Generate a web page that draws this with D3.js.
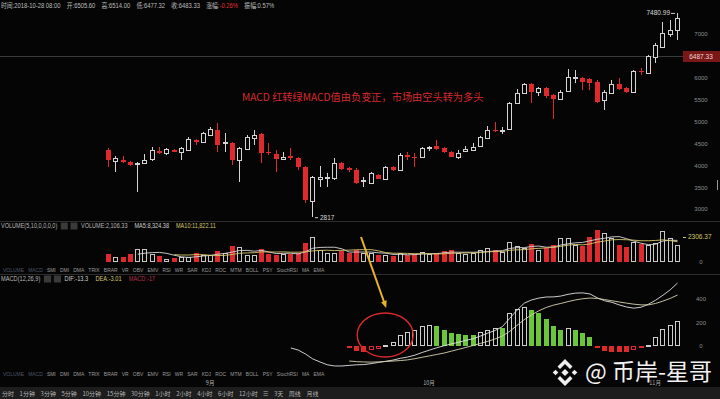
<!DOCTYPE html>
<html>
<head>
<meta charset="utf-8">
<script src="https://cdn.jsdelivr.net/npm/d3@7"></script>
<style>
  html, body { margin: 0; padding: 0; background: #050505; }
  svg { display: block; }
</style>
</head>
<body>
<svg id="chart" width="720" height="399"></svg>
<script>
// daily candles, 2017-08-18 .. 2017-11-05
const startDay = new Date(2017, 7, 18);
const open  = [4352,4100,4123,4078,4030,4055,4146,4330,4285,4352,4310,4352,4580,4535,4694,4808,4530,4511,4123,4375,
               4626,4717,4306,4260,4146,4215,4169,3964,3187,3690,3710,3712,4055,3941,3895,3644,3598,3780,3690,3964,
               3895,4237,4200,4190,4390,4445,4397,4306,4190,4330,4352,4440,4626,4808,4790,4831,5425,5653,5858,5676,
               5767,5607,5516,5700,6000,5995,5970,5904,5493,5653,5858,5767,5676,6150,6110,6475,6710,7000,7090];
const high  = [4397,4215,4215,4100,4080,4260,4420,4420,4400,4370,4420,4650,4603,4763,4877,4968,4740,4535,4420,4694,
               4808,4740,4511,4352,4306,4397,4190,3987,3760,3987,3826,4169,4078,3964,3941,3735,3850,3800,3987,3987,
               4285,4306,4285,4420,4440,4580,4420,4330,4352,4440,4511,4672,4900,4990,4877,5447,5744,5881,5881,5790,
               5790,5630,5721,6202,6180,6018,5995,5950,5721,5950,6000,5790,6180,6225,6520,6795,7270,7320,7480.99];
const low   = [3964,3850,4055,3990,3393,4030,4100,4260,4240,4300,4123,4330,4465,4530,4672,4306,4306,4010,3621,4352,
               4466,4055,4240,3850,4123,4123,3895,3142,2817,3507,3507,3667,3895,3850,3575,3507,3598,3680,3667,3870,
               3870,4123,3964,4169,4330,4352,4285,4190,4146,4306,4330,4420,4603,4763,4717,4808,5425,5630,5425,5584,
               5539,5060,5493,5676,5880,5720,5720,5425,5265,5653,5720,5653,5653,6065,6087,6340,6680,6930,6865];
const close = [4123,4169,4078,4010,4060,4123,4352,4285,4375,4310,4397,4603,4535,4740,4831,4466,4545,4123,4397,4650,
               4694,4285,4285,4146,4190,4169,3964,3210,3735,3735,3735,4055,3918,3895,3598,3667,3827,3690,3964,3895,
               4237,4190,4180,4397,4410,4375,4306,4190,4285,4375,4420,4650,4808,4787,4810,5425,5653,5858,5676,5767,
               5584,5516,5676,6018,6020,5904,5880,5447,5676,5858,5744,5676,6155,6135,6500,6740,7020,7090,7360];
const volume = [740,460,460,740,1200,1200,740,550,280,370,460,460,830,650,650,1010,830,1475,1380,650,
                650,1200,740,650,740,740,830,1750,2300,1100,830,830,1010,830,1100,830,830,650,650,550,
                830,650,740,920,740,830,1010,1100,830,740,830,1100,1290,1100,920,1840,1475,1290,1660,1100,
                1290,1570,2210,2210,1570,1475,2300,2950,2670,2210,1570,1380,1840,1660,1570,1750,2860,2210,1570];
// MACD(12,26,9)
const difStart = 25;
const dif = [-17,-34,-68,-110,-136,-160,-170,-170,-165,-160,
             -158,-150,-140,-130,-120,-105,-94,-78,-55,-35,
             -15,2,18,32,48,62,85,110,132,165,
             235,305,365,392,408,417,418,425,440,450,
             452,443,410,385,372,350,332,322,330,355,
             390,432,478,536];
const deaStart = 33;
const dea = [-128,-133,-136,-137,-135,-132,-128,-124,-118,-108,
             -96,-84,-72,-60,-44,-28,-12,5,22,40,
             60,85,125,175,225,265,300,328,348,362,
             378,392,402,408,405,395,385,375,365,356,
             350,350,362,382,405,434];
const hist = [-15,-42,-50,-34,-25,5,35,94,119,136,
              170,179,170,136,113,102,94,90,119,136,
              153,150,280,315,330,306,283,228,170,136,
              153,136,113,74,-8,-42,-50,-53,-55,-32,
              -14,6,77,145,179,213];

const priceTicks = [3000, 3500, 4000, 4500, 5000, 5500, 6000, 6500, 7000];
const macdTicks = [0, 200, 400];
const lastPrice = 6487.33;
const volMark = 2306.37;

const headerItems = [
  ["时间:", "2018-10-28 08:00"], ["开:", "6505.60"], ["高:", "6514.00"], ["低:", "6477.32"],
  ["收:", "6483.33"], ["涨幅:", "-0.26%"], ["振幅:", "0.57%"]
];
const volLegend = [["VOLUME(5,10,0,0,0,0)", "#b8b8b8"], ["VOLUME:2,106.33", "#b8b8b8"], ["MA5:8,324.38", "#d0d0d0"], ["MA10:11,822.11", "#d6c66a"]];
const macdLegend = [["MACD(12,26,9)", "#b8b8b8"], ["DIF:-13.3", "#d0d0d0"], ["DEA:-3.01", "#d6c66a"], ["MACD:-17", "#b03048"]];
const indicatorTabs = ["VOLUME","MACD","SMI","DMI","DMA","TRIX","BRAR","VR","OBV","EMV","RSI","WR","SAR","KDJ","ROC","MTM","BOLL","PSY","StochRSI","MA","EMA"];
const periodTabs = ["分时","1分钟","3分钟","5分钟","10分钟","15分钟","30分钟","1小时","2小时","4小时","6小时","12小时","☰","3天","周线","月线"];
const note = "MACD 红转绿MACD值由负变正，市场由空头转为多头";

const UI = '"Liberation Sans","Noto Sans CJK SC",sans-serif';
const CJK = '"Noto Sans CJK SC",sans-serif';
const RED = "#de2a2c", WHITE = "#d4d4d4", GREEN = "#6cc63c", GREY = "#8e8e8e";

const days = d3.timeDay.range(startDay, d3.timeDay.offset(startDay, close.length));
const bars = days.map((d, i) => ({date: d, i, o: open[i], h: high[i], l: low[i], c: close[i], v: volume[i]}));

const svg = d3.select("#chart");
svg.append("rect").attr("width", 720).attr("height", 399).attr("fill", "#050505");

const x = d3.scalePoint().domain(days).range([108, 677]);
const cx = d => Math.round(x(d));
const y = d3.scaleLinear().domain([3000, 7000]).range([209.2, 34]);
const yv = d3.scaleLinear().domain([0, 3000]).range([262, 229.5]);
const ym = d3.scaleLinear().domain([0, 400]).range([346, 299]);

// separators
[221.5, 274.5].forEach(yy => svg.append("line").attr("x1", 0).attr("x2", 720)
  .attr("y1", yy).attr("y2", yy).attr("stroke", "#2c2c2c"));

// squeezed text row (the app uses a narrow UI font)
function row(x0, sx) {
  return svg.append("g").attr("transform", `translate(${x0},0) scale(${sx},1)`);
}

// header
const hg = row(1, 0.9);
let hx = 0;
headerItems.forEach(([k, v]) => {
  const t = hg.append("text").attr("x", hx).attr("y", 8).attr("font-family", UI).attr("font-size", 6.5);
  t.append("tspan").attr("fill", "#bdbdbd").text(k);
  t.append("tspan").attr("fill", v.startsWith("-") ? "#e03030" : "#bdbdbd").text(v);
  hx += t.node().getComputedTextLength() + 7;
});

// last price line
const yLast = Math.round(y(lastPrice)) + 0.5;
svg.append("line").attr("x1", 0).attr("x2", 683).attr("y1", yLast).attr("y2", yLast).attr("stroke", "#3a3a3a");

// price axis
svg.append("g").selectAll("text").data(priceTicks.filter(t => Math.abs(y(t) - y(lastPrice)) > 8)).join("text")
  .attr("x", 701).attr("y", t => y(t) + 2.2).attr("text-anchor", "middle")
  .attr("font-family", UI).attr("font-size", 6).attr("fill", GREY).text(t => t);
svg.append("rect").attr("x", 683).attr("y", yLast - 5.5).attr("width", 37).attr("height", 11).attr("fill", "#7a1818");
svg.append("text").attr("x", 701).attr("y", yLast + 2.3).attr("text-anchor", "middle")
  .attr("font-family", UI).attr("font-size", 6.5).attr("fill", "#f0d6d6").text(lastPrice.toFixed(2));

// candles
const cg = svg.append("g").attr("shape-rendering", "crispEdges");
const bw = 5;
const up = d => d.c >= d.o;
cg.selectAll("line").data(bars).join("line")
  .attr("x1", d => cx(d.date) + 0.5).attr("x2", d => cx(d.date) + 0.5)
  .attr("y1", d => y(d.h)).attr("y2", d => y(d.l))
  .attr("stroke", d => up(d) ? WHITE : RED);
cg.selectAll("rect").data(bars).join("rect")
  .attr("x", d => cx(d.date) - 2 + (up(d) ? 0 : -0.5))
  .attr("y", d => Math.round(y(Math.max(d.o, d.c))) + (up(d) ? 0.5 : 0))
  .attr("width", d => up(d) ? bw - 1 : bw)
  .attr("height", d => Math.max(1, Math.round(Math.abs(y(d.o) - y(d.c)))))
  .attr("fill", d => up(d) ? "#050505" : RED)
  .attr("stroke", d => up(d) ? WHITE : "none");

// high / low markers
const hi = d3.maxIndex(bars, d => d.h), lo = d3.minIndex(bars, d => d.l);
const hb = bars[hi], lb = bars[lo];
svg.append("line").attr("x1", cx(hb.date) - 6).attr("x2", cx(hb.date) - 2)
  .attr("y1", y(hb.h) + 0.5).attr("y2", y(hb.h) + 0.5).attr("stroke", "#cfcfcf");
svg.append("text").attr("x", cx(hb.date) - 7).attr("y", y(hb.h) + 2.5).attr("text-anchor", "end")
  .attr("font-family", UI).attr("font-size", 6.5).attr("fill", "#d8d8d8").text(hb.h.toFixed(2));
svg.append("line").attr("x1", cx(lb.date) + 3).attr("x2", cx(lb.date) + 6)
  .attr("y1", y(lb.l) + 0.5).attr("y2", y(lb.l) + 0.5).attr("stroke", "#cfcfcf");
svg.append("text").attr("x", cx(lb.date) + 8).attr("y", y(lb.l) + 2.5)
  .attr("font-family", UI).attr("font-size", 6.5).attr("fill", "#d8d8d8").text(lb.l);

// note
svg.append("text").attr("x", 242).attr("y", 100.5).attr("font-family", CJK).attr("font-size", 10.2)
  .attr("fill", "#d42a2c").text(note);

// legends
function legend(items, yy, x0, sx) {
  const g = row(x0, sx);
  let lx = 0;
  items.forEach(([t, col], k) => {
    const el = g.append("text").attr("x", lx).attr("y", yy).attr("font-family", UI)
      .attr("font-size", 6.3).attr("fill", col).text(t);
    lx += el.node().getComputedTextLength() + 8;
    if (k === 0) {
      [0, 1].forEach(j => g.append("rect").attr("x", lx - 4 + j * 11).attr("y", yy - 6)
        .attr("width", 8).attr("height", 7).attr("fill", "#3a3a3a"));
      lx += 19;
    }
  });
}
legend(volLegend, 228.5, 1, 0.88);
legend(macdLegend, 281.5, 1, 0.9);

// volume
const vg = svg.append("g").attr("shape-rendering", "crispEdges");
vg.selectAll("rect").data(bars).join("rect")
  .attr("x", d => cx(d.date) - 2 + (up(d) ? 0 : -0.5))
  .attr("y", d => Math.round(yv(d.v)) + (up(d) ? 0.5 : 0))
  .attr("width", d => up(d) ? bw - 1 : bw)
  .attr("height", d => Math.round(yv(0) - yv(d.v)) - (up(d) ? 1 : 0))
  .attr("fill", d => up(d) ? "#050505" : RED)
  .attr("stroke", d => up(d) ? "#c8c8c8" : "none");
const ma = n => bars.map((d, i) => i < n - 1 ? null : {date: d.date, v: d3.mean(volume.slice(i - n + 1, i + 1))}).filter(Boolean);
const vline = d3.line().x(d => x(d.date) + 0.5).y(d => yv(d.v));
svg.append("path").attr("d", vline(ma(5))).attr("fill", "none").attr("stroke", "#d8d8d8").attr("stroke-width", 0.9);
svg.append("path").attr("d", vline(ma(10))).attr("fill", "none").attr("stroke", "#d6c66a").attr("stroke-width", 0.9);
svg.append("text").attr("x", 701).attr("y", yv(0) + 2.2).attr("text-anchor", "middle")
  .attr("font-family", UI).attr("font-size", 6).attr("fill", GREY).text("0");
svg.append("line").attr("x1", 683).attr("x2", 686).attr("y1", yv(volMark) + 0.5).attr("y2", yv(volMark) + 0.5).attr("stroke", "#d6c66a");
svg.append("text").attr("x", 688).attr("y", yv(volMark) + 2.3)
  .attr("font-family", UI).attr("font-size", 6.5).attr("fill", "#d6c66a").text(volMark.toFixed(2));

// tab rows
function tabs(list, yy, x0, sx, gap, size, colorFn, font) {
  const g = row(x0, sx);
  let tx = 0;
  list.forEach((t, k) => {
    const el = g.append("text").attr("x", tx).attr("y", yy).attr("font-family", font)
      .attr("font-size", size).attr("fill", colorFn(t, k)).text(t);
    tx += el.node().getComputedTextLength() + gap;
  });
}
const tabColor = t => (t === "VOLUME" || t === "MACD") ? "#4c5566" : "#9c9c9c";
tabs(indicatorTabs, 272, 3, 0.83, 5, 6, tabColor, UI);
tabs(indicatorTabs, 376.5, 3, 0.83, 5, 6, tabColor, UI);

// MACD pane
const mg = svg.append("g").attr("shape-rendering", "crispEdges");
const hdata = hist.map((v, k) => ({date: days[deaStart + k], v, prev: k ? hist[k - 1] : 0}));
mg.selectAll("rect").data(hdata).join("rect")
  .attr("x", d => cx(d.date) - 1.5)
  .attr("y", d => Math.round(ym(Math.max(0, d.v))) + 0.5)
  .attr("width", 3.5)
  .attr("height", d => Math.max(0.5, Math.round(Math.abs(ym(d.v) - ym(0))) - 1))
  .attr("fill", d => d.v >= 0 ? (d.v >= d.prev ? "#050505" : GREEN) : (d.v < d.prev ? RED : "#050505"))
  .attr("stroke", d => d.v >= 0 ? (d.v >= d.prev ? "#cfcfcf" : GREEN) : RED);
const mline = d3.line().x(d => x(d.date) + 0.5).y(d => ym(d.v));
svg.append("path").attr("d", mline(dif.map((v, k) => ({date: days[difStart + k], v}))))
  .attr("fill", "none").attr("stroke", "#e2e2e2").attr("stroke-width", 0.9);
svg.append("path").attr("d", mline(dea.map((v, k) => ({date: days[deaStart + k], v}))))
  .attr("fill", "none").attr("stroke", "#d8d2b0").attr("stroke-width", 0.9);
svg.append("g").selectAll("text").data(macdTicks).join("text")
  .attr("x", 701).attr("y", t => ym(t) + 2.2).attr("text-anchor", "middle")
  .attr("font-family", UI).attr("font-size", 6).attr("fill", GREY).text(t => t);

// month labels
svg.append("g").selectAll("text").data(days.filter(d => d.getDate() === 1)).join("text")
  .attr("x", d => x(d)).attr("y", 384.5).attr("text-anchor", "middle")
  .attr("font-family", CJK).attr("font-size", 5.5).attr("fill", "#b0b0b0")
  .text(d => (d.getMonth() + 1) + "月");

// annotation: circle around the red-to-positive turn, arrow pointing at it
const turn = days[38];
const ex = x(turn), ey = ym(94);
svg.append("ellipse").attr("cx", ex).attr("cy", ey).attr("rx", 28).attr("ry", 22)
  .attr("fill", "none").attr("stroke", "#d82a2a").attr("stroke-width", 1.4);
const ax0 = [361, 237], ax1 = [ex + 1, ey - 27];
const ang = Math.atan2(ax1[1] - ax0[1], ax1[0] - ax0[0]);
svg.append("line").attr("x1", ax0[0]).attr("y1", ax0[1]).attr("x2", ax1[0] - 5 * Math.cos(ang)).attr("y2", ax1[1] - 5 * Math.sin(ang))
  .attr("stroke", "#e8b424").attr("stroke-width", 2);
const ah = [[ax1[0], ax1[1]],
  [ax1[0] - 7 * Math.cos(ang) + 3 * Math.sin(ang), ax1[1] - 7 * Math.sin(ang) - 3 * Math.cos(ang)],
  [ax1[0] - 7 * Math.cos(ang) - 3 * Math.sin(ang), ax1[1] - 7 * Math.sin(ang) + 3 * Math.cos(ang)]];
svg.append("polygon").attr("points", ah.map(p => p.join(",")).join(" ")).attr("fill", "#e8b424");

// scroll mark on the right edge
svg.append("line").attr("x1", 717.5).attr("x2", 717.5).attr("y1", 180).attr("y2", 190).attr("stroke", "#9a9a9a");

// bottom toolbar
svg.append("rect").attr("x", 0).attr("y", 387).attr("width", 720).attr("height", 12).attr("fill", "#1d1d1d");
tabs(periodTabs, 396, 2, 1, 5.6, 6, () => "#b4b4b4", CJK);

// watermark
const wm = svg.append("g").attr("fill", "#efefef");
const lx = 565, ly = 372.5;
wm.append("polygon").attr("points", [[lx, ly - 3.6], [lx + 3.6, ly], [lx, ly + 3.6], [lx - 3.6, ly]].join(" "));
[-9.5, 9.5].forEach(dx => wm.append("polygon")
  .attr("points", [[lx + dx, ly - 2.8], [lx + dx + 2.8, ly], [lx + dx, ly + 2.8], [lx + dx - 2.8, ly]].join(" ")));
[-1, 1].forEach(s => wm.append("polygon").attr("points", [
  [lx - 7.5, ly + s * 6], [lx, ly + s * 13.5], [lx + 7.5, ly + s * 6],
  [lx + 5, ly + s * 3.5], [lx, ly + s * 8.5], [lx - 5, ly + s * 3.5]].join(" ")));
svg.append("text").attr("x", 585).attr("y", 379.5).attr("font-family", CJK).attr("font-size", 23)
  .attr("fill", "#f2f2f2").text("@ 币岸-星哥");
</script>
</body>
</html>
